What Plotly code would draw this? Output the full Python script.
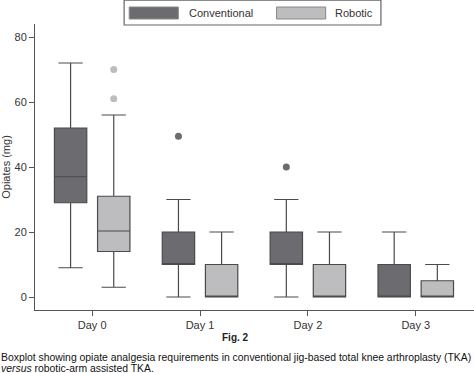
import plotly.graph_objects as go

days = ["Day 0", "Day 1", "Day 2", "Day 3"]
day_pos = [0, 1, 2, 3]

conv_lower = [9, 0, 0, 0]
conv_q1 = [29, 10, 10, 0]
conv_median = [37, 10, 10, 0]
conv_q3 = [52, 20, 20, 10]
conv_upper = [72, 30, 30, 20]
conv_out_day = [1, 2]
conv_out_val = [49.5, 40]

rob_lower = [3, 0, 0, 0]
rob_q1 = [14, 0, 0, 0]
rob_median = [20.3, 0, 0, 0]
rob_q3 = [31, 10, 10, 5]
rob_upper = [56, 20, 20, 10]
rob_out_day = [0, 0]
rob_out_val = [70, 61]

y_ticks = [0, 20, 40, 60, 80]

CONV = "#6c6c70"
ROB = "#bdbdbf"
EDGE = "#4a4a4a"
OFF = 0.2
FONT = "Liberation Sans, Arial, sans-serif"

fig = go.Figure()
fig.add_trace(go.Box(
    x=[d - OFF for d in day_pos], q1=conv_q1, median=conv_median, q3=conv_q3,
    lowerfence=conv_lower, upperfence=conv_upper, width=0.3, whiskerwidth=0.75,
    fillcolor=CONV, line=dict(color=EDGE, width=1.2), boxpoints=False,
    name="Conventional", showlegend=False))
fig.add_trace(go.Box(
    x=[d + OFF for d in day_pos], q1=rob_q1, median=rob_median, q3=rob_q3,
    lowerfence=rob_lower, upperfence=rob_upper, width=0.3, whiskerwidth=0.75,
    fillcolor=ROB, line=dict(color=EDGE, width=1.2), boxpoints=False,
    name="Robotic", showlegend=False))
fig.add_trace(go.Scatter(
    x=[d - OFF for d in conv_out_day], y=conv_out_val, mode="markers",
    marker=dict(color=CONV, size=7), showlegend=False))
fig.add_trace(go.Scatter(
    x=[d + OFF for d in rob_out_day], y=rob_out_val, mode="markers",
    marker=dict(color=ROB, size=7), showlegend=False))

# legend drawn as shapes + text
shapes = [
    dict(type="rect", xref="paper", yref="paper", x0=0.203, x1=0.788, y0=0.9965, y1=1.083,
         line=dict(color="#666666", width=1.2), fillcolor="white", layer="above"),
    dict(type="rect", xref="paper", yref="paper", x0=0.2146, x1=0.3265, y0=1.0175, y1=1.0594,
         line=dict(color="#888888", width=1), fillcolor=CONV),
    dict(type="rect", xref="paper", yref="paper", x0=0.5502, x1=0.6621, y0=1.0175, y1=1.0594,
         line=dict(color="#888888", width=1), fillcolor=ROB),
]
annotations = [
    dict(text="Conventional", xref="paper", yref="paper", x=0.347, y=1.0385,
         xanchor="left", yanchor="middle", showarrow=False, font=dict(size=11, color="#333")),
    dict(text="Robotic", xref="paper", yref="paper", x=0.678, y=1.0385,
         xanchor="left", yanchor="middle", showarrow=False, font=dict(size=11, color="#333")),
    dict(text="<b>Fig. 2</b>", xref="paper", yref="paper", x=0.456, y=-0.095,
         xanchor="center", yanchor="middle", showarrow=False, font=dict(size=10, color="#222")),
    dict(text="Boxplot showing opiate analgesia requirements in conventional jig-based total knee arthroplasty (TKA)",
         xref="paper", yref="paper", x=0, xshift=-36, y=-0.1655, xanchor="left", yanchor="middle",
         showarrow=False, font=dict(size=10.4, color="#111")),
    dict(text="<i>versus</i> robotic-arm assisted TKA.",
         xref="paper", yref="paper", x=0, xshift=-36, y=-0.204, xanchor="left", yanchor="middle",
         showarrow=False, font=dict(size=10.4, color="#111")),
]

fig.update_layout(
    width=474, height=373, margin=dict(l=35, r=0, t=24, b=63, autoexpand=False),
    paper_bgcolor="white", plot_bgcolor="white",
    font=dict(family=FONT, size=11, color="#333"),
    shapes=shapes, annotations=annotations,
    xaxis=dict(range=[-0.53, 3.54], tickvals=day_pos, ticktext=days,
               showgrid=False, zeroline=False, showline=True, linecolor="#555", linewidth=1,
               ticks="outside", ticklen=5, tickcolor="#555", tickfont=dict(size=11)),
    yaxis=dict(range=[-4, 84], tickvals=y_ticks, showgrid=False, zeroline=False,
               showline=True, linecolor="#555", linewidth=1, ticks="outside", ticklen=5,
               tickcolor="#555", tickfont=dict(size=11),
               title=dict(text="Opiates (mg)", font=dict(size=11), standoff=4)),
)

fig.write_html("out.html", config={"displayModeBar": False},
               post_script="document.body.style.margin='0';")
